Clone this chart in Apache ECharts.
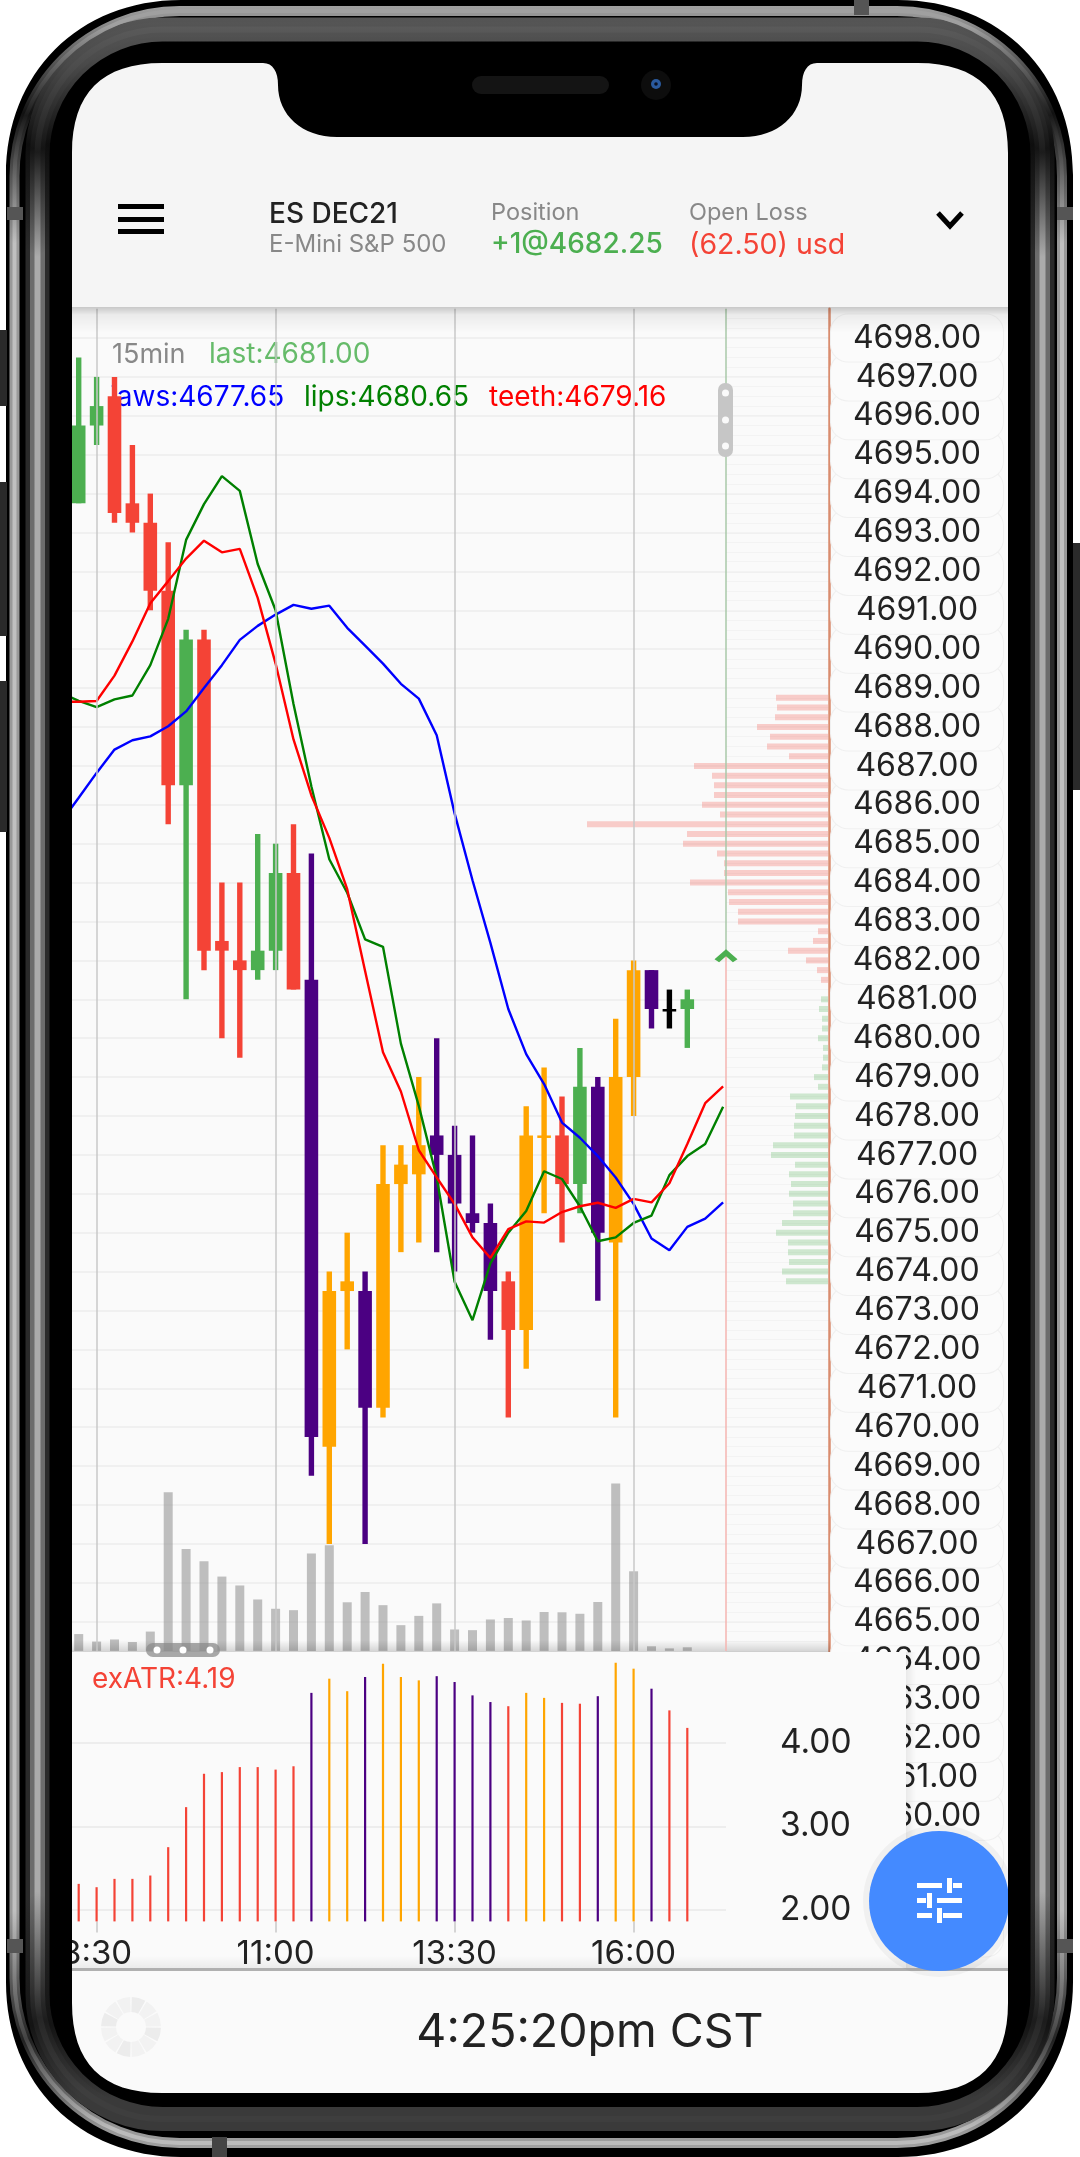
<!DOCTYPE html>
<html>
<head>
<meta charset="utf-8">
<title>ES DEC21</title>
<style>html,body{margin:0;padding:0;background:#fff}#chart{width:1080px;height:2157px}</style>
<script src="https://cdn.jsdelivr.net/npm/echarts@6/dist/echarts.min.js"></script>
</head>
<body>
<div id="chart"></div>
<script>
var categories = ['8:00','8:15','8:30','8:45','9:00','9:15','9:30','9:45','10:00','10:15','10:30','10:45','11:00','11:15','11:30','11:45','12:00','12:15','12:30','12:45','13:00','13:15','13:30','13:45','14:00','14:15','14:30','14:45','15:00','15:15','15:30','15:45','16:00','16:15','16:30','16:45','17:00','17:15'];
var timeLabels = ['8:30','11:00','13:30','16:00'];

// first slot is off screen, only the lines have a value there
var opens  = [null,4693.75,4695.75,4696.5,4693.75,4693.25,4691.5,4686.5,4690.25,4682.5,4682,4681.75,4682.25,4684.25,4681.5,4669.5,4673.5,4673.5,4670.5,4676.25,4676.5,4677.5,4677,4675.5,4675.25,4673.75,4672.5,4677.5,4677.5,4676.25,4678.75,4674.75,4679,4681.75,4680.75,4680.75];
var closes = [null,4695.75,4696.25,4693.5,4693.25,4691.5,4686.5,4690.25,4682.25,4682.25,4681.75,4682.25,4684.25,4681.25,4669.75,4673.5,4673.75,4670.5,4676.25,4676.75,4677.25,4677,4675.75,4675.25,4673.5,4672.5,4677.5,4677.5,4676.25,4678.75,4675,4679,4681.75,4680.75,4680.75,4681];
var lows   = [null,4693.75,4695.25,4693.25,4693,4691,4685.5,4681,4681.75,4680,4679.5,4681.5,4681.75,4681.25,4668.75,4667,4672,4667,4670.25,4674.5,4674.75,4674.5,4674,4675,4672.25,4670.25,4671.5,4675.5,4674.75,4675.5,4673.25,4670.25,4678,4680.25,4680.25,4679.75];
var highs  = [null,4697.5,4697,4697,4695.25,4694,4692.75,4690.5,4690.5,4684,4684,4685.25,4685,4685.5,4684.75,4674,4675,4674,4677.25,4677.25,4679,4680,4677.75,4677.5,4675.75,4674,4678.25,4679.25,4678.5,4679.75,4679,4680.5,4682,4681.75,4681.25,4681.25];
var candleState = [null,'g','g','r','r','r','r','g','r','r','r','g','g','r','p','o','o','p','o','o','o','p','p','p','p','r','o','o','r','g','p','o','o','p','k','g'];

var volumes = [null,168,93,114,89,193,1586,1018,896,743,654,514,421,407,975,1057,486,589,457,257,350,475,214,207,314,329,304,389,386,371,489,1675,796,46,25,36];

var jaws  = [4685.55,4686.18,4686.82,4687.42,4687.66,4687.76,4688.02,4688.4,4689,4689.59,4690.24,4690.6,4690.89,4691.14,4691.04,4691.12,4690.55,4690.09,4689.63,4689.11,4688.73,4687.79,4685.78,4684.06,4682.45,4680.75,4679.59,4678.82,4677.83,4677.44,4676.97,4676.42,4675.74,4674.85,4674.55,4675.15,4675.36,4675.78];
var lips  = [4688.88,4688.67,4688.51,4688.71,4688.81,4689.59,4690.78,4692.81,4693.73,4694.45,4694.07,4692.19,4691,4688.59,4686.47,4684.6,4683.74,4682.54,4682.35,4679.86,4678.26,4676.42,4673.74,4672.75,4674.21,4675,4675.56,4676.58,4676.38,4675.68,4674.78,4674.88,4675.25,4675.44,4676.48,4676.97,4677.28,4678.24];
var teeth = [4688.65,4688.65,4688.67,4689.32,4690.2,4691.18,4691.75,4692.33,4692.79,4692.49,4692.58,4691.32,4689.63,4687.68,4686.24,4685.15,4683.83,4681.73,4679.64,4678.63,4677.12,4676.42,4675.74,4674.88,4674.35,4675.09,4675.29,4675.26,4675.53,4675.68,4675.77,4675.64,4675.87,4675.78,4676.27,4677.28,4678.33,4678.76];

var atrValues = [null,2.31,2.27,2.37,2.37,2.41,2.75,3.23,3.63,3.65,3.71,3.71,3.68,3.72,4.6,4.77,4.62,4.79,4.95,4.79,4.75,4.8,4.73,4.57,4.49,4.44,4.6,4.54,4.48,4.47,4.56,4.96,4.89,4.65,4.39,4.18];
var atrState  = [null,'r','r','r','r','r','r','r','r','r','r','r','r','r','p','o','o','p','o','o','o','p','p','p','p','r','o','o','r','r','p','o','o','p','r','r'];

var profilePrices = [4688.75,4688.5,4688.25,4688,4687.75,4687.5,4687.25,4687,4686.75,4686.5,4686.25,4686,4685.75,4685.5,4685.25,4685,4684.75,4684.5,4684.25,4684,4683.75,4683.5,4683.25,4683,4682.75,4682.5,4682.25,4682,4681.75,4681.5,4681.25,4681,4680.75,4680.5,4680.25,4680,4679.75,4679.5,4679.25,4679,4678.75,4678.5,4678.25,4678,4677.75,4677.5,4677.25,4677,4676.75,4676.5,4676.25,4676,4675.75,4675.5,4675.25,4675,4674.75,4674.5,4674.25,4674,4673.75];
var profileAsk = [52,51,53,71,58,61,39,134,116,114,114,126,108,241,141,145,111,104,104,138,100,99,90,90,10,15,40,22,11,7];
var profileBid = [7,9,6,6,10,5,5,6,14,10,38,32,33,34,34,55,57,33,39,37,39,35,35,46,52,40,40,39,46,42];

var palette = { g: '#4caf50', r: '#f44336', o: '#ffa500', p: '#4b0082', k: '#000000' };
var font = 'Inter';

// 38.9 px per point on the price scale, 4698 sits at y=338
var pxPerPoint = 38.9;
function priceY(p) { return 338 + (4698 - p) * pxPerPoint; }
var bandW = 17.9;
var candleLeft = 51.85;
var priceMax = 4698.75, priceMin = 4664.25;

var profileRows = profileAsk.concat([null], profileBid.map(function () { return null; }));
var profileRowsBid = profileAsk.map(function () { return null; }).concat([null], profileBid);

var candleData = [];
for (var i = 0; i < opens.length; i++) {
  if (opens[i] == null) continue;
  candleData.push([i, opens[i], closes[i], lows[i], highs[i], candleState[i]]);
}

function renderCandle(params, api) {
  var idx = api.value(0);
  var color = palette[candleData[params.dataIndex][5]];
  var xc = api.coord([idx, api.value(1)])[0];
  var yo = api.coord([idx, api.value(1)])[1];
  var yc = api.coord([idx, api.value(2)])[1];
  var yl = api.coord([idx, api.value(3)])[1];
  var yh = api.coord([idx, api.value(4)])[1];
  var top = Math.min(yo, yc), h = Math.max(Math.abs(yo - yc), 2.5);
  return {
    type: 'group',
    children: [
      { type: 'rect', shape: { x: xc - 2.7, y: yh, width: 5.4, height: yl - yh }, style: { fill: color } },
      { type: 'rect', shape: { x: xc - 6.8, y: top, width: 13.6, height: h }, style: { fill: color } }
    ]
  };
}

function renderFrame() {
  var outer = 'M181 0 L898 0 C1000 0 1073 73 1073 175 L1073 1982 C1073 2084 1000 2157 898 2157 L181 2157 C79 2157 6 2084 6 1982 L6 175 C6 73 79 0 181 0 Z ';
  var screen = 'M162 63 C102 63 72 93 72 153 L72 2003 C72 2063 102 2093 162 2093 L918 2093 C978 2093 1008 2063 1008 2003 L1008 153 C1008 93 978 63 918 63 L817 63 C807 63 802 72 802 85 C802 115 778 137 743 137 L337 137 C302 137 278 115 278 85 C278 72 273 63 263 63 Z';
  return { type: 'path', shape: { pathData: outer + screen }, style: { fill: '#000' } };
}

function text(str, x, y, size, color, opt) {
  opt = opt || {};
  return {
    type: 'text', z: opt.z == null ? 1 : opt.z, zlevel: opt.zlevel || 0, silent: true,
    style: { text: str, x: x, y: y, fill: color, align: opt.align || 'left', verticalAlign: 'middle',
      font: (opt.weight || 400) + ' ' + size + 'px ' + font }
  };
}
function box(x, y, w, h, fill, zlevel, z, r) {
  return { type: 'rect', zlevel: zlevel, z: z, silent: true, shape: { x: x, y: y, width: w, height: h, r: r || 0 }, style: { fill: fill } };
}
function dot(x, y, r, fill, zlevel, z) {
  return { type: 'circle', zlevel: zlevel, z: z, silent: true, shape: { cx: x, cy: y, r: r }, style: { fill: fill } };
}
function grad(x2, y2, stops) {
  return new echarts.graphic.LinearGradient(0, 0, x2, y2, stops.map(function (s) { return { offset: s[0], color: s[1] }; }));
}
// chrome band: strokes stacked on one rounded rect, dark at the corners
function ring(x, y, w, h, r, lineWidth, stops, z) {
  return { type: 'rect', zlevel: 3, z: z, silent: true, shape: { x: x, y: y, width: w, height: h, r: r },
    style: { fill: 'none', lineWidth: lineWidth, stroke: grad(0, 1, stops) } };
}

var elements = [
  box(60, 300, 960, 1700, '#fafafa', 0, -1),
  // indicator captions sit under the candles
  text('15min', 112, 355, 27, '#888888'),
  text('last:4681.00', 209, 355, 28, '#66bb6a'),
  text('jaws:4677.65', 110, 398, 28, '#0000ff'),
  text('lips:4680.65', 304, 398, 28, '#008000'),
  text('teeth:4679.16', 489, 398, 28, '#ff0000'),
  // scroll handles
  box(718, 383, 15, 74, '#c6c6c6', 0, 6, 7),
  dot(725.5, 393, 3.5, '#fafafa', 0, 7), dot(725.5, 420, 3.5, '#fafafa', 0, 7), dot(725.5, 446, 3.5, '#fafafa', 0, 7),
  // header
  box(60, 50, 960, 257, '#f5f5f5', 2, 1),
  box(60, 307, 960, 26, grad(0, 1, [[0, 'rgba(0,0,0,0.2)'], [0.3, 'rgba(0,0,0,0.06)'], [1, 'rgba(0,0,0,0)']]), 2, 1),
  box(118, 204, 46, 5, '#000', 2, 2), box(118, 217, 46, 5, '#000', 2, 2), box(118, 229, 46, 5, '#000', 2, 2),
  text('ES DEC21', 269, 215, 28, '#222222', { zlevel: 2, z: 2, weight: 500 }),
  text('E-Mini S&P 500', 269, 245, 24, '#888888', { zlevel: 2, z: 2 }),
  text('Position', 491, 213, 23.5, '#888888', { zlevel: 2, z: 2 }),
  text('+1@4682.25', 491, 245, 28, '#4caf50', { zlevel: 2, z: 2, weight: 500 }),
  text('Open Loss', 689, 213, 23.5, '#888888', { zlevel: 2, z: 2 }),
  text('(62.50) usd', 689, 245, 28.5, '#f44336', { zlevel: 2, z: 2 }),
  { type: 'polyline', zlevel: 2, z: 2, silent: true, shape: { points: [[938, 213], [950, 226], [962, 213]] }, style: { fill: 'none', stroke: '#000', lineWidth: 5 } },
  // ATR panel lies over the lower price labels
  box(60, 1652, 846, 318, '#fafafa', 1, -1),
  box(906, 1652, 10, 318, grad(1, 0, [[0, 'rgba(0,0,0,0.07)'], [1, 'rgba(0,0,0,0)']]), 1, -1),
  box(60, 1640, 770, 12, grad(0, 1, [[0, 'rgba(0,0,0,0)'], [1, 'rgba(0,0,0,0.16)']]), 0, 5),
  box(146, 1643, 74, 14, 'rgba(140,140,140,0.75)', 1, 6, 7),
  dot(157, 1650, 3.5, '#fff', 1, 7), dot(183, 1650, 3.5, '#fff', 1, 7), dot(210, 1650, 3.5, '#fff', 1, 7),
  text('exATR:4.19', 92, 1680, 28, '#f44336', { zlevel: 1, z: 6 }),
  // status bar
  box(60, 1956, 950, 12, grad(0, 1, [[0, 'rgba(0,0,0,0)'], [1, 'rgba(0,0,0,0.06)']]), 1, 8),
  box(60, 1968, 960, 130, '#fafafa', 2, 1),
  box(60, 1968, 960, 3, '#b0b0b0', 2, 2),
  text('4:25:20pm CST', 590, 2033, 46.5, '#222222', { zlevel: 2, z: 2, align: 'center' }),
  // action button
  dot(939, 1901, 76, 'rgba(0,0,0,0.04)', 2, 3),
  dot(939, 1901, 70, '#448aff', 2, 4),
  box(917, 1883, 25, 5, '#fff', 2, 5), box(953, 1883, 9, 5, '#fff', 2, 5), box(947, 1878, 5, 15, '#fff', 2, 5),
  box(917, 1898, 9, 5, '#fff', 2, 5), box(937, 1898, 25, 5, '#fff', 2, 5), box(927, 1893, 5, 15, '#fff', 2, 5),
  box(917, 1913, 15, 5, '#fff', 2, 5), box(943, 1913, 19, 5, '#fff', 2, 5), box(937, 1908, 5, 15, '#fff', 2, 5)
];

// loading wheel beside the clock
for (var s = 0; s < 12; s++) {
  var a0 = (s * 30 + 1.5) * Math.PI / 180, a1 = ((s + 1) * 30 - 1.5) * Math.PI / 180;
  elements.push({ type: 'sector', zlevel: 2, z: 3, silent: true,
    shape: { cx: 131, cy: 2027, r0: 15, r: 30, startAngle: a0, endAngle: a1 },
    style: { fill: s % 3 === 0 ? '#ececec' : '#f2f2f2' } });
}

// phone body
var outerRing = [[0, '#a0a0a0'], [0.008, '#8c8c8c'], [0.05, '#111'], [0.11, '#999'], [0.89, '#999'], [0.95, '#222'], [0.992, '#999'], [1, '#a0a0a0']];
var outerCore = [[0, '#a0a0a0'], [0.008, '#a0a0a0'], [0.05, '#1a1a1a'], [0.11, '#c0c0c0'], [0.89, '#c0c0c0'], [0.95, '#444'], [0.992, '#bbb'], [1, '#bbb']];
var innerRing = [[0, '#555'], [0.02, '#4a4a4a'], [0.06, '#0e0e0e'], [0.11, '#2a2a2a'], [0.89, '#2a2a2a'], [0.95, '#141414'], [0.985, '#3a3a3a'], [1, '#3a3a3a']];
var innerMid  = [[0, '#555'], [0.02, '#4a4a4a'], [0.06, '#141414'], [0.11, '#6c6c6c'], [0.89, '#6c6c6c'], [0.95, '#1c1c1c'], [0.985, '#3a3a3a'], [1, '#3a3a3a']];
var innerCore = [[0, '#5a5a5a'], [0.02, '#4c4c4c'], [0.06, '#1c1c1c'], [0.11, '#ababab'], [0.89, '#ababab'], [0.95, '#262626'], [0.985, '#3e3e3e'], [1, '#3e3e3e']];
elements.push(
  ring(14.5, 11, 1047.5, 2132, 165, 10, outerRing, 3),
  ring(14.5, 11, 1047.5, 2132, 165, 4, outerCore, 4),
  ring(37.5, 29.5, 1005, 2089.5, 125, 24, innerRing, 3),
  ring(37.5, 29.5, 1005, 2089.5, 125, 15, innerMid, 4),
  ring(37.5, 29.5, 1005, 2089.5, 125, 6, innerCore, 5),
  box(7, 207, 16, 13, '#555', 3, 6), box(7, 1939, 16, 14, '#555', 3, 6),
  box(1057, 207, 16, 13, '#555', 3, 6), box(1057, 1939, 16, 14, '#555', 3, 6),
  box(854, 0, 15, 15, '#555', 3, 6), box(212, 2137, 15, 20, '#444', 3, 6),
  box(0, 330, 7, 76, '#2a2a2a', 3, 2), box(0, 482, 7, 154, '#2a2a2a', 3, 2), box(0, 681, 7, 151, '#2a2a2a', 3, 2),
  box(1073, 543, 7, 247, '#2a2a2a', 3, 2),
  box(472, 76, 137, 18, '#141414', 3, 6, 9),
  dot(656, 85, 15, '#0d0d0d', 3, 6), dot(656, 84, 5, '#2a5a9e', 3, 7), dot(656, 84, 1.8, '#0a1020', 3, 8)
);

var chart = echarts.init(document.getElementById('chart'));

var option = {
  animation: false,
  backgroundColor: '#ffffff',
  graphic: { elements: elements },
  grid: [
    // price scale with gridlines
    { left: 72, right: 1080 - 829, top: priceY(priceMax), bottom: 2157 - priceY(4656) },
    // quarter point ladder
    { left: 726, right: 1080 - 829, top: priceY(priceMax), bottom: 2157 - priceY(4656) },
    // candles, alligator, volume
    { left: candleLeft, width: bandW * categories.length, top: priceY(priceMax), bottom: 2157 - priceY(priceMin) },
    // volume profile, one band for each quarter point
    { left: 528, right: 1080 - 828, top: priceY(4688.875), bottom: 2157 - priceY(4673.625) },
    // ATR gridlines and labels
    { left: 72, right: 1080 - 726, top: 1659.6, bottom: 2157 - 1993.2 },
    // ATR bars
    { left: candleLeft, width: bandW * categories.length, top: 1652, bottom: 2157 - 1921.4 }
  ],
  xAxis: [
    { gridIndex: 0, type: 'value', show: false, min: 0, max: 1 },
    { gridIndex: 1, type: 'value', show: false, min: 0, max: 1 },
    { gridIndex: 2, type: 'category', data: categories, show: false },
    { gridIndex: 3, type: 'value', show: false, inverse: true, min: 0, max: 300 },
    { gridIndex: 4, type: 'value', show: false, min: 0, max: 1 },
    { gridIndex: 5, type: 'category', data: categories, zlevel: 1,
      axisLine: { show: false },
      axisTick: { show: true, alignWithLabel: true, length: 11, lineStyle: { color: '#c8c8c8', width: 1.5 },
        interval: function (i, v) { return timeLabels.indexOf(v) >= 0; } },
      axisLabel: { show: true, margin: 16, color: '#222222', fontFamily: font, fontSize: 33,
        interval: function (i, v) { return timeLabels.indexOf(v) >= 0; } } }
  ],
  yAxis: [
    { gridIndex: 0, type: 'value', min: 4656, max: priceMax, interval: 1, position: 'right',
      axisLine: { show: true, onZero: false, lineStyle: { color: '#d98d6f', width: 2.5 } },
      axisTick: { show: false },
      splitLine: { show: true, showMaxLine: false, lineStyle: { color: '#ececec', width: 1.5 } },
      axisLabel: { show: true, showMaxLabel: false, align: 'center', margin: 88, color: '#222222', fontFamily: font, fontSize: 32,
        width: 172, height: 37, lineHeight: 31, padding: [0, 0, 10, 0], overflow: 'none',
        borderColor: '#f0f0f0', borderWidth: 1, borderRadius: 17, backgroundColor: '#fbfbfb',
        formatter: function (v) { return v.toFixed(2); } } },
    { gridIndex: 1, type: 'value', min: 4656, max: priceMax, interval: 0.25,
      axisLine: { show: false }, axisTick: { show: false }, axisLabel: { show: false },
      splitLine: { show: true, showMaxLine: false, lineStyle: { color: '#f3f3f3', width: 1 } } },
    { gridIndex: 2, type: 'value', show: false, min: priceMin, max: priceMax, splitLine: { show: false } },
    // 10 volume units to the pixel
    { gridIndex: 2, type: 'value', show: false, min: 0, max: (priceY(priceMin) - priceY(priceMax)) * 10, splitLine: { show: false } },
    { gridIndex: 3, type: 'category', data: profilePrices, inverse: true, show: false },
    { gridIndex: 4, type: 'value', min: 1, max: 5, interval: 1, position: 'right', zlevel: 1,
      axisLine: { show: false }, axisTick: { show: false },
      splitLine: { show: true, showMinLine: false, showMaxLine: false, lineStyle: { color: '#e8e8e8', width: 1.5 } },
      axisLabel: { show: true, showMinLabel: false, showMaxLabel: false, margin: 54, color: '#222222', fontFamily: font, fontSize: 33.5,
        padding: [7, 0, 0, 0],
        formatter: function (v) { return v.toFixed(2); } } },
    { gridIndex: 5, type: 'value', show: false, min: 1.86, max: 5.09, splitLine: { show: false } }
  ],
  series: [
    { name: 'volume', type: 'bar', xAxisIndex: 2, yAxisIndex: 3, data: volumes, barWidth: 9, z: 2, silent: true,
      itemStyle: { color: 'rgba(150,150,150,0.6)' },
      markLine: { silent: true, symbol: 'none', label: { show: false }, lineStyle: { color: '#c8c8c8', width: 1.5, type: 'solid' },
        data: timeLabels.map(function (t) { return { xAxis: t }; }) } },
    { name: 'ask', type: 'bar', xAxisIndex: 3, yAxisIndex: 4, stack: 'profile', data: profileRows, barWidth: 6, z: 2, silent: true,
      itemStyle: { color: 'rgba(244,67,54,0.25)' } },
    { name: 'bid', type: 'bar', xAxisIndex: 3, yAxisIndex: 4, stack: 'profile', data: profileRowsBid, barWidth: 6, z: 2, silent: true,
      itemStyle: { color: 'rgba(76,175,80,0.25)' } },
    { name: 'ES DEC21', type: 'custom', xAxisIndex: 2, yAxisIndex: 2, data: candleData, z: 3, silent: true,
      encode: { x: 0, y: [1, 2, 3, 4] }, renderItem: renderCandle },
    { name: 'jaws', type: 'line', xAxisIndex: 2, yAxisIndex: 2, data: jaws, z: 4, silent: true, symbol: 'none', lineStyle: { color: '#0000ff', width: 2.4 } },
    { name: 'lips', type: 'line', xAxisIndex: 2, yAxisIndex: 2, data: lips, z: 4, silent: true, symbol: 'none', lineStyle: { color: '#008000', width: 2.4 } },
    { name: 'teeth', type: 'line', xAxisIndex: 2, yAxisIndex: 2, data: teeth, z: 4, silent: true, symbol: 'none', lineStyle: { color: '#ff0000', width: 2.4 } },
    // entry price marker on the ladder's left edge
    { name: 'position', type: 'line', xAxisIndex: 1, yAxisIndex: 1, data: [], z: 4, silent: true,
      markLine: { silent: true, symbol: 'none', label: { show: false },
        data: [
          [{ coord: [0, priceMax], lineStyle: { color: '#a9c9a9', width: 1.5, type: 'solid' } }, { coord: [0, 4682.25] }],
          [{ coord: [0, 4682.25], lineStyle: { color: '#f5b5b0', width: 1.5, type: 'solid' } }, { coord: [0, priceMin] }]
        ] },
      markPoint: { silent: true, symbol: 'path://M0,10 L10,0 L20,10 L16,13 L10,7 L4,13 Z', symbolSize: [23, 13], symbolOffset: [0, 5],
        itemStyle: { color: '#4caf50' }, label: { show: false }, data: [{ coord: [0, 4682.25] }] } },
    { name: 'exATR', type: 'bar', xAxisIndex: 5, yAxisIndex: 6, zlevel: 1, z: 3, barWidth: 2.2, silent: true,
      data: atrValues.map(function (v, i) {
        return v == null ? null : { value: v, itemStyle: { color: palette[atrState[i]] } };
      }),
      markLine: { silent: true, symbol: 'none', label: { show: false }, lineStyle: { color: '#c8c8c8', width: 1.5, type: 'solid' },
        data: timeLabels.map(function (t) { return { xAxis: t }; }) } },
    { name: 'atrEdge', type: 'line', xAxisIndex: 4, yAxisIndex: 5, zlevel: 1, z: 3, data: [], silent: true,
      markLine: { silent: true, symbol: 'none', label: { show: false },
        data: [[{ coord: [1, 4.86], lineStyle: { color: '#e6e6e6', width: 1.5, type: 'solid' } }, { coord: [1, 2.12] }]] } },
    { name: 'frame', type: 'custom', coordinateSystem: 'none', zlevel: 3, z: 1, silent: true, data: [0], renderItem: renderFrame }
  ]
};

chart.setOption(option);

window.onresize = chart.resize;
</script>
</body>
</html>
